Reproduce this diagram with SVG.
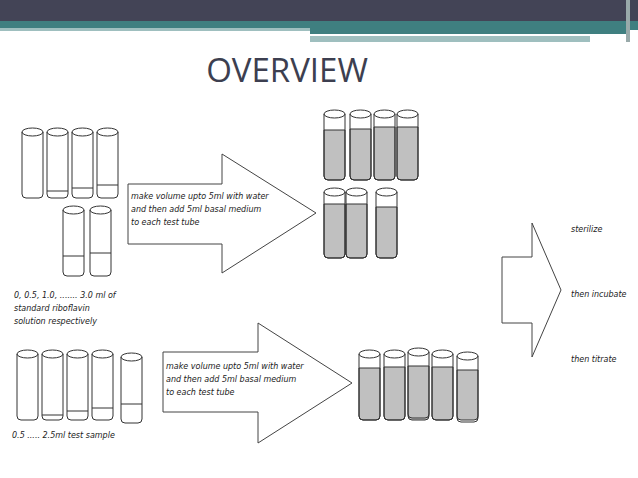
<svg xmlns="http://www.w3.org/2000/svg" xmlns:xlink="http://www.w3.org/1999/xlink" width="638" height="478" viewBox="0 0 638 478">
<style>
.t{fill:none;stroke:#333;stroke-width:1}
.lq{fill:#c0c0c0;stroke:#333;stroke-width:1}
.ar{fill:#fff;stroke:#444;stroke-width:1}
.s{font-family:"DejaVu Sans",sans-serif;font-size:8px;fill:#222;font-style:italic}
</style>
<defs>
<g id="tube"><path class="t" d="M0,4 V66 Q0,70 4,70 H17 Q21,70 21,66 V4"/><ellipse class="t" cx="10.5" cy="4" rx="10.5" ry="4"/></g>
</defs>
<rect width="638" height="478" fill="#fff"/>
<g id="header">
<rect x="0" y="0" width="638" height="21" fill="#434456"/>
<rect x="0" y="21" width="638" height="9" fill="#3f7f80"/>
<rect x="0" y="28" width="310" height="3" fill="#9fbfbf"/>
<rect x="310" y="30" width="320" height="4" fill="#3f7f80"/>
<rect x="310" y="36" width="280" height="6" fill="#9fbfbf"/>
<rect x="626" y="0" width="4" height="42" fill="#9aa"/>
</g>
<text x="287" y="82" text-anchor="middle" font-family="'Open Sans',sans-serif" font-size="33" fill="#3d3f50">OVERVIEW</text>
<g id="std-tubes">
<use href="#tube" x="22" y="128"/>
<use href="#tube" x="47" y="128"/><line class="t" x1="47" y1="191" x2="68" y2="191"/>
<use href="#tube" x="72" y="128"/><line class="t" x1="72" y1="188" x2="93" y2="188"/>
<use href="#tube" x="97" y="128"/><line class="t" x1="97" y1="185" x2="118" y2="185"/>
<use href="#tube" x="63" y="206"/><line class="t" x1="63" y1="256" x2="84" y2="256"/>
<use href="#tube" x="90" y="206"/><line class="t" x1="90" y1="253" x2="111" y2="253"/>
</g>
<g id="std-label"><text class="s"><tspan x="14" y="298">0, 0.5, 1.0, ....... 3.0 ml of</tspan><tspan x="14" y="311">standard riboflavin</tspan><tspan x="14" y="324">solution respectively</tspan></text></g>
<g id="sample-tubes">
<use href="#tube" x="17" y="350"/>
<use href="#tube" x="42" y="350"/><line class="t" x1="42" y1="415" x2="63" y2="415"/>
<use href="#tube" x="67" y="350"/><line class="t" x1="67" y1="411" x2="88" y2="411"/>
<use href="#tube" x="92" y="350"/><line class="t" x1="92" y1="408" x2="113" y2="408"/>
<use href="#tube" x="121" y="353"/><line class="t" x1="121" y1="404" x2="142" y2="404"/>
</g>
<g id="sample-label"><text class="s" x="12" y="438">0.5 ..... 2.5ml test sample</text></g>
<g id="connectors">
<path class="ar" d="M128,184 H222 V154 L316,213 L222,273 V244 H128 Z"/>
<path class="ar" d="M163,352 H258 V323 L352,383 L258,443 V412 H163 Z"/>
<path class="ar" d="M502,257 H532 V223 L561,290 L532,357 V323 H502 Z"/>
</g>
<g id="arrow1-label"><text class="s"><tspan x="131" y="199">make volume upto 5ml with water</tspan><tspan x="131" y="212">and then add 5ml basal medium</tspan><tspan x="131" y="225">to each test tube</tspan></text></g>
<g id="arrow2-label"><text class="s"><tspan x="166" y="369">make volume upto 5ml with water</tspan><tspan x="166" y="382">and then add 5ml basal medium</tspan><tspan x="166" y="395">to each test tube</tspan></text></g>
<g id="std-filled">
<path class="lq" d="M324,130 H345 V176 Q345,180 341,180 H328 Q324,180 324,176 Z"/><use href="#tube" x="324" y="110"/>
<path class="lq" d="M350,129 H371 V176 Q371,180 367,180 H354 Q350,180 350,176 Z"/><use href="#tube" x="350" y="110"/>
<path class="lq" d="M374,127 H395 V176 Q395,180 391,180 H378 Q374,180 374,176 Z"/><use href="#tube" x="374" y="110"/>
<path class="lq" d="M397,127 H418 V176 Q418,180 414,180 H401 Q397,180 397,176 Z"/><use href="#tube" x="397" y="110"/>
<path class="lq" d="M324,204 H345 V254 Q345,258 341,258 H328 Q324,258 324,254 Z"/><use href="#tube" x="324" y="188"/>
<path class="lq" d="M346,204 H367 V254 Q367,258 363,258 H350 Q346,258 346,254 Z"/><use href="#tube" x="346" y="188"/>
<path class="lq" d="M376,207 H397 V254 Q397,258 393,258 H380 Q376,258 376,254 Z"/><use href="#tube" x="376" y="188"/>
</g>
<g id="sample-filled">
<path class="lq" d="M359,368 H380 V416 Q380,420 376,420 H363 Q359,420 359,416 Z"/><use href="#tube" x="359" y="350"/>
<path class="lq" d="M384,367 H405 V416 Q405,420 401,420 H388 Q384,420 384,416 Z"/><use href="#tube" x="384" y="350"/>
<path class="lq" d="M408,366 H429 V416 Q429,420 425,420 H412 Q408,420 408,416 Z"/><use href="#tube" x="408" y="348"/>
<path class="lq" d="M432,367 H453 V416 Q453,420 449,420 H436 Q432,420 432,416 Z"/><use href="#tube" x="432" y="350"/>
<path class="lq" d="M457,370 H478 V416 Q478,420 474,420 H461 Q457,420 457,416 Z"/><use href="#tube" x="457" y="352"/>
</g>
<g id="steps">
<text class="s" x="571" y="232">sterilize</text>
<text class="s" x="571" y="297">then incubate</text>
<text class="s" x="571" y="362">then titrate</text>
</g>
</svg>
